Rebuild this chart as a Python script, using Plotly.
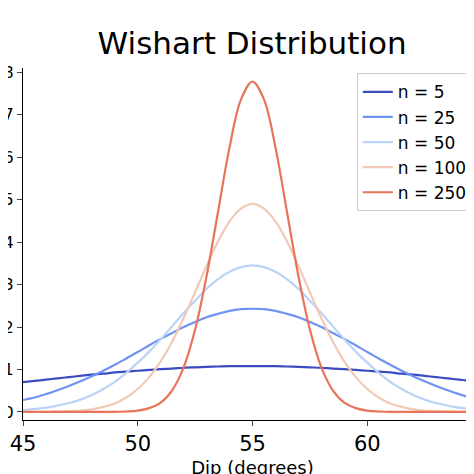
import plotly.graph_objects as go

# x grid in degrees
dip = [45 + 0.5 * i for i in range(41)]

# density values (in axis units)
n5 = [0.70, 0.73, 0.76, 0.79, 0.82, 0.85, 0.88, 0.90, 0.93, 0.95, 0.97, 0.99, 1.01, 1.02, 1.04, 1.05, 1.06, 1.07, 1.08, 1.08,
      1.08,
      1.08, 1.08, 1.07, 1.06, 1.05, 1.04, 1.02, 1.01, 0.99, 0.97, 0.95, 0.93, 0.90, 0.88, 0.85, 0.82, 0.79, 0.76, 0.73, 0.70]
n25 = [0.28, 0.34, 0.42, 0.51, 0.61, 0.72, 0.84, 0.97, 1.11, 1.26, 1.41, 1.57, 1.72, 1.86, 2.00, 2.12, 2.23, 2.31, 2.38, 2.42,
       2.43,
       2.42, 2.38, 2.31, 2.23, 2.12, 2.00, 1.86, 1.72, 1.57, 1.41, 1.26, 1.11, 0.97, 0.84, 0.72, 0.61, 0.51, 0.42, 0.34, 0.28]
n50 = [0.04, 0.07, 0.10, 0.15, 0.21, 0.29, 0.40, 0.54, 0.71, 0.92, 1.16, 1.42, 1.71, 2.02, 2.33, 2.62, 2.90, 3.13, 3.30, 3.41,
       3.45,
       3.41, 3.30, 3.13, 2.90, 2.62, 2.33, 2.02, 1.71, 1.42, 1.16, 0.92, 0.71, 0.54, 0.40, 0.29, 0.21, 0.15, 0.10, 0.07, 0.04]
n100 = [0.00, 0.00, 0.00, 0.01, 0.02, 0.03, 0.06, 0.12, 0.20, 0.34, 0.54, 0.82, 1.19, 1.66, 2.21, 2.82, 3.44, 4.02, 4.49, 4.79,
        4.90,
        4.79, 4.49, 4.02, 3.44, 2.82, 2.21, 1.66, 1.19, 0.82, 0.54, 0.34, 0.20, 0.12, 0.06, 0.03, 0.02, 0.01, 0.00, 0.00, 0.00]
n250 = [0.00, 0.00, 0.00, 0.00, 0.00, 0.00, 0.00, 0.00, 0.00, 0.01, 0.03, 0.09, 0.22, 0.51, 1.05, 1.94, 3.20, 4.72, 6.23, 7.36,
        7.78,
        7.36, 6.23, 4.72, 3.20, 1.94, 1.05, 0.51, 0.22, 0.09, 0.03, 0.01, 0.00, 0.00, 0.00, 0.00, 0.00, 0.00, 0.00, 0.00, 0.00]

labels = ["n = 5", "n = 25", "n = 50", "n = 100", "n = 250"]
series = [n5, n25, n50, n100, n250]
colors = ["#3b4cc0", "#7093f3", "#bcd2f7", "#f2c9b4", "#e7745b"]

y_ticks = list(range(9))
y_ticktext = ["0.%d" % v for v in y_ticks]

fig = go.Figure()
for lab, ys, col in zip(labels, series, colors):
    fig.add_trace(go.Scatter(x=dip, y=ys, name=lab, mode="lines",
                             line=dict(color=col, width=2.2, shape="spline")))

fig.update_layout(
    width=474, height=474,
    margin=dict(l=15, r=0, t=60, b=62, autoexpand=False),
    paper_bgcolor="white", plot_bgcolor="white",
    font=dict(family="DejaVu Sans", color="black"),
    title=dict(text="Wishart Distribution", x=0.515, xanchor="center", y=0.925, yanchor="middle",
               font=dict(size=31)),
    legend=dict(x=0.98, xanchor="right", y=0.985, yanchor="top",
                bordercolor="#cccccc", borderwidth=1, bgcolor="rgba(255,255,255,0.8)",
                font=dict(size=17), tracegroupgap=2),
    showlegend=True,
)
fig.update_xaxes(range=[45, 65], tickvals=[45, 50, 55, 60, 65], showgrid=False, zeroline=False,
                 showline=True, linecolor="black", linewidth=1.2, ticks="outside", ticklen=5,
                 automargin=False,
                 tickfont=dict(size=21), title=dict(text="Dip (degrees)", font=dict(size=18), standoff=6))
fig.update_yaxes(range=[-0.19, 8.1], tickvals=y_ticks, ticktext=y_ticktext, showgrid=False, zeroline=False,
                 showline=True, linecolor="black", linewidth=1.2, ticks="outside", ticklen=5,
                 automargin=False, tickfont=dict(size=16))

fig.write_html("out.html")
